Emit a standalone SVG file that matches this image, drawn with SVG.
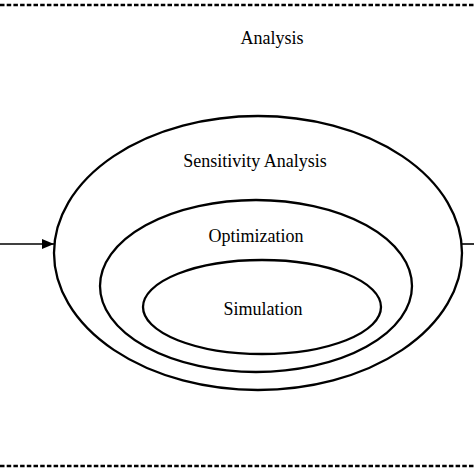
<svg xmlns="http://www.w3.org/2000/svg" width="474" height="474" viewBox="0 0 474 474">
<style>
.bg{fill:#fff}
.dash{stroke:#000;stroke-width:2.5;stroke-dasharray:4.5 2.2;fill:none}
.ell{fill:none;stroke:#000;stroke-width:2.3}
.lbl{font-family:"Liberation Serif","Times New Roman",serif;font-size:18px;fill:#000;text-anchor:middle}
.conn{stroke:#000;stroke-width:1.6;fill:none}
</style>
<defs>
<marker id="ah" markerWidth="12" markerHeight="10" refX="12" refY="5" orient="auto" markerUnits="userSpaceOnUse">
<path d="M0,0 L12,5 L0,10 Z" fill="#000"/>
</marker>
</defs>
<rect class="bg" x="0" y="0" width="474" height="474"/>
<line class="dash" x1="0" y1="5" x2="474" y2="5"/>
<line class="dash" x1="0" y1="466" x2="474" y2="466"/>
<text class="lbl" x="272" y="44">Analysis</text>
<g id="sensitivity">
<ellipse class="ell" cx="258" cy="253" rx="204" ry="137"/>
<text class="lbl" x="255" y="167">Sensitivity Analysis</text>
</g>
<g id="optimization">
<ellipse class="ell" cx="256" cy="286" rx="156" ry="86"/>
<text class="lbl" x="256" y="242">Optimization</text>
</g>
<g id="simulation">
<ellipse class="ell" cx="262" cy="307" rx="119" ry="47"/>
<text class="lbl" x="263" y="315">Simulation</text>
</g>
<g id="connectors">
<line class="conn" x1="0" y1="244" x2="54" y2="244" marker-end="url(#ah)"/>
<line class="conn" x1="462" y1="244" x2="474" y2="244"/>
</g>
</svg>
